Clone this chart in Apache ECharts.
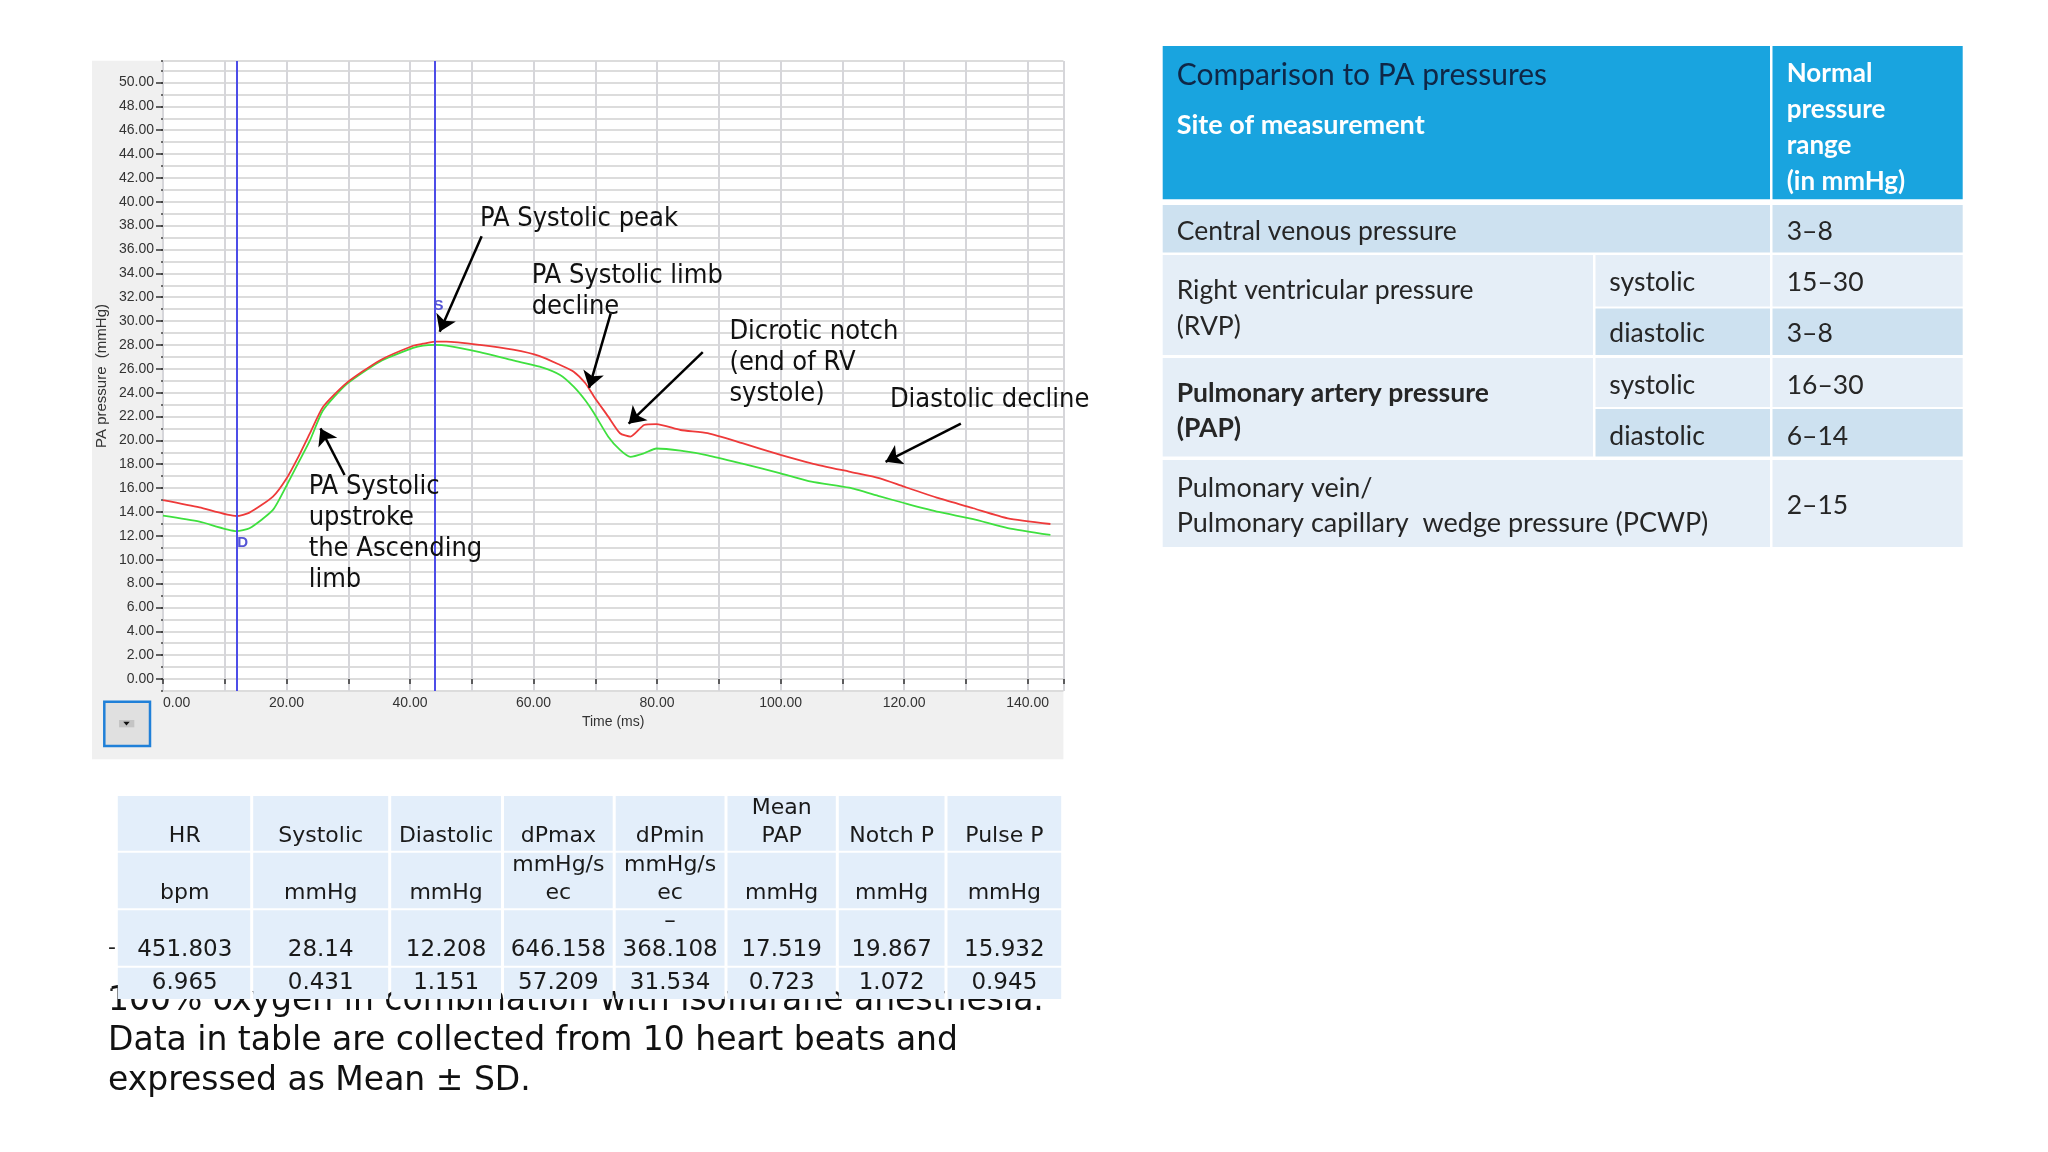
<!DOCTYPE html>
<html>
<head>
<meta charset="UTF-8">
<title>PA pressure waveform</title>
<style>
html, body { margin: 0; padding: 0; background: #ffffff; }
#main { width: 2048px; height: 1152px; }
</style>
</head>
<body>
<div id="main"></div>
<script src="https://cdn.jsdelivr.net/npm/echarts@6/dist/echarts.min.js"></script>
<script>
// trace samples (time in ms, pressure in mmHg)
var timeMs = [0, 5.9, 11.9, 14.0, 17.8, 20.0, 22.0, 23.8, 25.9, 29.7, 35.1, 40.5, 42.1, 44.0, 45.9, 51.3, 56.7, 61.0,
  64.3, 66.5, 68.4, 69.8, 72.1, 74.0, 75.7, 77.9, 79.9, 83.8, 88.2, 93.8, 100.0, 105.0, 111.1, 116.1, 120.0,
  125.6, 131.2, 136.8, 143.7];
var redTrace = [15.0, 14.39, 13.66, 13.94, 15.28, 16.8, 18.7, 20.6, 22.8, 24.8, 26.7, 27.93, 28.1, 28.27, 28.27, 28.0, 27.6, 27.07,
  26.32, 25.76, 24.79, 23.66, 21.99, 20.6, 20.32, 21.29, 21.37, 20.87, 20.6, 19.76, 18.78, 18.08, 17.38, 16.82, 16.12,
  15.15, 14.31, 13.47, 12.99];
var greenTrace = [13.69, 13.19, 12.4, 12.63, 14.17, 16.2, 18.2, 20.0, 22.5, 24.7, 26.6, 27.75, 27.95, 28.0, 27.95, 27.4, 26.7, 26.18,
  25.48, 24.5, 23.34, 22.27, 20.31, 19.2, 18.62, 18.92, 19.32, 19.14, 18.75, 18.05, 17.24, 16.54, 16.03, 15.3, 14.75,
  14.0, 13.4, 12.65, 12.07];

// cursors (D = diastolic, S = systolic)
var cursorTimes = [11.9, 44.0];
var cursorNames = ['D', 'S'];

// annotations
var noteTexts = ['PA Systolic peak', 'PA Systolic limb\ndecline', 'Dicrotic notch\n(end of RV\nsystole)',
  'Diastolic decline', 'PA Systolic\nupstroke\nthe Ascending\nlimb'];

// stats table under the trace
var statHeads = ['HR', 'Systolic', 'Diastolic', 'dPmax', 'dPmin', 'Mean\nPAP', 'Notch P', 'Pulse P'];
var statUnits = ['bpm', 'mmHg', 'mmHg', 'mmHg/s\nec', 'mmHg/s\nec', 'mmHg', 'mmHg', 'mmHg'];
var statMeans = ['451.803', '28.14', '12.208', '646.158', '\u2013\n368.108', '17.519', '19.867', '15.932'];
var statSDs = ['6.965', '0.431', '1.151', '57.209', '31.534', '0.723', '1.072', '0.945'];
var footNote = ['100% oxygen in combination with isoflurane anesthesia.',
  'Data in table are collected from 10 heart beats and',
  'expressed as Mean \u00b1 SD.'];

// comparison table on the right
var cmpTitle = 'Comparison to PA pressures';
var cmpSub = 'Site of measurement';
var cmpRangeHead = 'Normal\npressure\nrange\n(in mmHg)';
var sites = ['Central venous pressure', 'Right ventricular pressure\n(RVP)', 'Pulmonary artery pressure\n(PAP)',
  'Pulmonary vein/\nPulmonary capillary  wedge pressure (PCWP)'];
var phases = ['systolic', 'diastolic'];
var ranges = ['3\u20138', '15\u201330', '3\u20138', '16\u201330', '6\u201314', '2\u201315'];

var chart = echarts.init(document.getElementById('main'));

var AX_FONT = '"Liberation Sans", Arial, sans-serif';
var NOTE_FONT = '"DejaVu Sans Condensed", "DejaVu Sans", sans-serif';
var TAB_FONT = '"DejaVu Sans", sans-serif';
var CMP_FONT = 'Lato, "Noto Sans", sans-serif';

function pairs(ys) {
  return timeMs.map(function (t, i) { return [t, ys[i]]; });
}

// text helper: y is centre of first line
function txt(x, y, str, size, family, color, opt) {
  opt = opt || {};
  var lh = opt.lh || Math.round(size * 1.25);
  var n = str.split('\n').length;
  return {
    type: 'text', x: x, y: y + (n - 1) * lh / 2, z: opt.z || 30, silent: true,
    style: {
      text: str, fontSize: size, fontFamily: family, fontWeight: opt.bold ? 'bold' : 'normal',
      fill: color, align: opt.align || 'left', verticalAlign: 'middle', lineHeight: lh
    }
  };
}
function box(x, y, w, h, fill, z) {
  return { type: 'rect', shape: { x: x, y: y, width: w, height: h }, style: { fill: fill }, z: z || 20, silent: true };
}

var g = [];
// gray instrument panel + dropdown button
g.push(box(92, 60.7, 971.4, 698.6, '#f0f0f0', -10));
g.push({ type: 'rect', shape: { x: 104.3, y: 701.7, width: 45.7, height: 44.3 }, z: 5, silent: true,
  style: { fill: '#e0e0e0', stroke: '#2080d8', lineWidth: 2.5 } });
g.push(box(119, 720, 15.3, 7.3, '#c4c4c4', 6));
g.push({ type: 'polygon', shape: { points: [[123.3, 721.8], [129.7, 721.8], [126.5, 725.6]] }, z: 7, silent: true,
  style: { fill: '#111' } });

// annotation text
var notePos = [[480, 219], [531.7, 276], [729.4, 331.7], [889.9, 400], [308.7, 487.3]];
noteTexts.forEach(function (s, i) {
  g.push(txt(notePos[i][0], notePos[i][1], s, 27, NOTE_FONT, '#111', { lh: 31 }));
});

// stats table
var sCols = [117.8, 251.7, 389.7, 502.5, 614.2, 726, 837.3, 946, 1062.7];
var sRows = [796, 851.7, 909.3, 966.7, 1000];
var sLast = [836, 893.3, 950, 982.7];
var sData = [statHeads, statUnits, statMeans, statSDs];
footNote.forEach(function (s, i) {
  g.push(txt(108, 1001.7 + i * 40, s, 33, TAB_FONT, '#111', { z: 10 }));
});
g.push(txt(108, 948, '-', 22, TAB_FONT, '#222', { z: 10 }));
g.push(txt(108, 985, '.', 22, TAB_FONT, '#222', { z: 10 }));
for (var r = 0; r < 4; r++) {
  for (var c = 0; c < 8; c++) {
    var x0 = sCols[c] + (c ? 1.5 : 0), x1 = sCols[c + 1] - 1.5;
    var y0 = sRows[r] + (r ? 1 : 0), y1 = sRows[r + 1] - 1;
    g.push(box(x0, y0, x1 - x0, y1 - y0, '#e3eefa', 20));
    var s = sData[r][c];
    var n = s.split('\n').length;
    var size = r < 2 ? 22 : 23;
    g.push(txt((sCols[c] + sCols[c + 1]) / 2, sLast[r] - (n - 1) * 28, s, size, TAB_FONT, '#1a1a1a',
      { align: 'center', lh: 28 }));
  }
}

// comparison table
var BLUE = '#19a4df', DARK = '#cde1f0', LIGHT = '#e5eef7';
var cL = 1162.7, cM = 1593, cS = 1595.5, cV = 1772.5, cR = 1962.7;
var BODY = 26.5;
g.push(box(cL, 46, 1770 - cL, 153.3, BLUE));
g.push(box(cV, 46, cR - cV, 153.3, BLUE));
g.push(txt(1176.7, 75, cmpTitle, 30, CMP_FONT, '#0f2747'));
g.push(txt(1176.7, 125, cmpSub, 27, CMP_FONT, '#ffffff', { bold: true }));
g.push(txt(1786.7, 73.3, cmpRangeHead, 26, CMP_FONT, '#ffffff', { bold: true, lh: 36 }));
// central venous
g.push(box(cL, 205, 1770 - cL, 47.5, DARK));
g.push(box(cV, 205, cR - cV, 47.5, DARK));
g.push(txt(1176.7, 231.7, sites[0], BODY, CMP_FONT, '#262626'));
g.push(txt(1786.7, 231.7, ranges[0], BODY, CMP_FONT, '#262626'));
// RVP and PAP blocks
var blocks = [
  { top: 255, mid: 307.5, bot: 355, lines: 290, lh: 36.7, bold: false, ys: [282.7, 333.3] },
  { top: 358, mid: 408, bot: 456.5, lines: 393.3, lh: 35, bold: true, ys: [385, 436.7] }
];
blocks.forEach(function (b, k) {
  g.push(box(cL, b.top, cM - cL, b.bot - b.top, LIGHT));
  g.push(box(cS, b.top, 1770 - cS, b.mid - 1 - b.top, LIGHT));
  g.push(box(cV, b.top, cR - cV, b.mid - 1 - b.top, LIGHT));
  g.push(box(cS, b.mid + 1, 1770 - cS, b.bot - b.mid - 1, DARK));
  g.push(box(cV, b.mid + 1, cR - cV, b.bot - b.mid - 1, DARK));
  g.push(txt(1176.7, b.lines, sites[k + 1], BODY, CMP_FONT, '#262626', { bold: b.bold, lh: b.lh }));
  phases.forEach(function (p, j) {
    g.push(txt(1609.3, b.ys[j], p, BODY, CMP_FONT, '#262626'));
    g.push(txt(1786.7, b.ys[j], ranges[1 + k * 2 + j], BODY, CMP_FONT, '#262626'));
  });
});
// pulmonary vein / PCWP
g.push(box(cL, 460, 1770 - cL, 87, LIGHT));
g.push(box(cV, 460, cR - cV, 87, LIGHT));
g.push(txt(1176.7, 488.3, sites[3], 27, CMP_FONT, '#262626', { lh: 35 }));
g.push(txt(1786.7, 505, ranges[5], BODY, CMP_FONT, '#262626'));

// arrows in data units: [fromT, fromP, toT, toP]
var arrowCoords = [[51.6, 37.1, 44.8, 29.1], [72.5, 30.65, 69.0, 24.4], [87.4, 27.4, 75.4, 21.4],
  [129.2, 21.4, 117.0, 18.2], [29.4, 17.1, 25.5, 21.0]];
// cursor letter spots in data units
var cursorSpots = [[12.9, 11.4], [44.6, 31.3]];

var option = {
  animation: false,
  backgroundColor: '#ffffff',
  graphic: { elements: g },
  grid: [
    { left: 163, right: 984.6, top: 61, bottom: 461.1, show: true, backgroundColor: '#ffffff', borderWidth: 0 },
    { left: 163, right: 984.6, top: 82.47, bottom: 473, show: false }
  ],
  xAxis: [
    {
      type: 'value', gridIndex: 0, min: 0, max: 145.8, interval: 10,
      axisLine: { show: false },
      axisTick: { show: true, length: 5, lineStyle: { color: '#333', width: 1.5 } },
      axisLabel: {
        margin: 5, fontSize: 14, fontFamily: AX_FONT, color: '#333', alignMinLabel: 'left',
        formatter: function (v) { return (v % 20 === 0 && v <= 140) ? v.toFixed(2) : ''; }
      },
      splitLine: { show: true, lineStyle: { color: '#d6d6da', width: 2 } },
      name: 'Time (ms)', nameLocation: 'middle', nameGap: 23,
      nameTextStyle: { fontSize: 14, fontFamily: AX_FONT, color: '#333' }
    },
    { type: 'value', gridIndex: 1, min: 0, max: 145.8, show: false }
  ],
  yAxis: [
    {
      type: 'value', gridIndex: 0, min: -1, max: 51.8, interval: 1,
      axisLine: { show: false },
      axisTick: { show: true, length: 2, lineStyle: { color: '#444', width: 1.5 } },
      axisLabel: { show: false },
      splitLine: { show: true, lineStyle: { color: '#dcdcdc', width: 2 } },
      name: 'PA pressure  (mmHg)', nameLocation: 'middle', nameRotate: 90, nameGap: 54,
      nameTextStyle: { fontSize: 15, fontFamily: AX_FONT, color: '#333' }
    },
    {
      type: 'value', gridIndex: 1, min: 0, max: 50, interval: 2,
      axisLine: { show: false },
      axisTick: { show: true, length: 7, lineStyle: { color: '#333', width: 1.5 } },
      axisLabel: {
        margin: 9, fontSize: 14, fontFamily: AX_FONT, color: '#333',
        formatter: function (v) { return v.toFixed(2); }
      },
      splitLine: { show: false }
    }
  ],
  series: [
    {
      name: 'green', type: 'line', xAxisIndex: 0, yAxisIndex: 0, data: pairs(greenTrace),
      showSymbol: false, smooth: 0.2, silent: true,
      lineStyle: { color: '#3fe03f', width: 1.8 },
      markLine: {
        silent: true, symbol: 'none', animation: false,
        label: { show: false },
        lineStyle: { color: '#4d4de8', width: 2, type: 'solid' },
        data: cursorTimes.map(function (t) { return { xAxis: t }; })
      }
    },
    {
      name: 'red', type: 'line', xAxisIndex: 0, yAxisIndex: 0, data: pairs(redTrace),
      showSymbol: false, smooth: 0.2, silent: true,
      lineStyle: { color: '#ee3a3a', width: 1.8 },
      markPoint: {
        silent: true, symbol: 'circle', symbolSize: 1, animation: false,
        itemStyle: { color: 'rgba(0,0,0,0)' },
        label: { show: true, position: 'inside', formatter: '{b}', color: '#5555d5',
          fontSize: 15, fontWeight: 'bold', fontFamily: AX_FONT },
        data: cursorSpots.map(function (p, i) { return { name: cursorNames[i], coord: p }; })
      }
    },
    {
      name: 'notes', type: 'line', xAxisIndex: 0, yAxisIndex: 0, data: [], silent: true,
      markLine: {
        silent: true, animation: false, symbol: ['none', 'arrow'], symbolSize: 16,
        label: { show: false },
        lineStyle: { color: '#000', width: 2.5, type: 'solid' },
        data: arrowCoords.map(function (a) { return [{ coord: [a[0], a[1]] }, { coord: [a[2], a[3]] }]; })
      }
    }
  ]
};
chart.setOption(option);
</script>
</body>
</html>
